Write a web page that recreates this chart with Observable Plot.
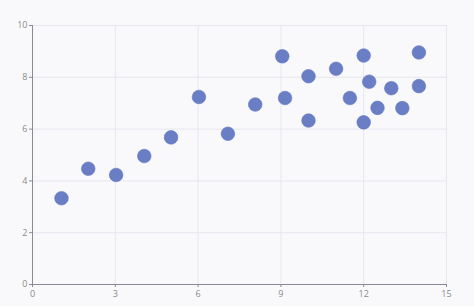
<!DOCTYPE html>
<html>
<head>
<meta charset="utf-8">
<script src="https://cdn.jsdelivr.net/npm/d3@7"></script>
<script src="https://cdn.jsdelivr.net/npm/@observablehq/plot@0.6"></script>
<style>
  html, body { margin: 0; padding: 0; background: #fdfdfe; }
  #chart svg { display: block; }
</style>
</head>
<body>
<div id="chart"></div>
<script>
const xValues = [10.0, 8.07, 13.0, 9.05, 11.0, 14.0, 13.4, 10.0, 14.0, 12.5, 9.15, 11.5, 3.03, 12.2, 2.02, 1.05, 4.05, 6.03, 12.0, 12.0, 7.08, 5.02];
const yValues = [8.04, 6.95, 7.58, 8.81, 8.33, 7.66, 6.81, 6.33, 8.96, 6.82, 7.2, 7.2, 4.23, 7.83, 4.47, 3.33, 4.96, 7.24, 6.26, 8.84, 5.82, 5.68];
const xTicks = [0, 3, 6, 9, 12, 15];
const yTicks = [0, 2, 4, 6, 8, 10];

const data = xValues.map((x, i) => ({x, y: yValues[i]}));

const chart = Plot.plot({
  width: 474,
  height: 306,
  marginLeft: 32,
  marginRight: 28,
  marginTop: 25,
  marginBottom: 22,
  style: {background: "#f9f9fb", fontFamily: "Open Sans, sans-serif"},
  x: {domain: [0, 15]},
  y: {domain: [0, 10]},
  marks: [
    Plot.gridX(xTicks, {stroke: "#e6e7ef", strokeOpacity: 1}),
    Plot.gridY(yTicks, {stroke: "#e6e7ef", strokeOpacity: 1}),
    Plot.ruleY([0], {stroke: "#8a8a96"}),
    Plot.ruleX([0], {stroke: "#8a8a96"}),
    Plot.axisX({ticks: xTicks, tickSize: 3, tickPadding: 3, fontSize: 9, color: "#8a8a8a", stroke: "#8a8a96", label: null}),
    Plot.axisY({ticks: yTicks, tickSize: 3, tickPadding: 2, fontSize: 9, color: "#8a8a8a", stroke: "#8a8a96", label: null}),
    Plot.dot(data, {x: "x", y: "y", r: 6.8, fill: "#6a7ec6", stroke: "#5f73bd", strokeWidth: 0.6})
  ]
});
document.getElementById("chart").appendChild(chart);
</script>
</body>
</html>
